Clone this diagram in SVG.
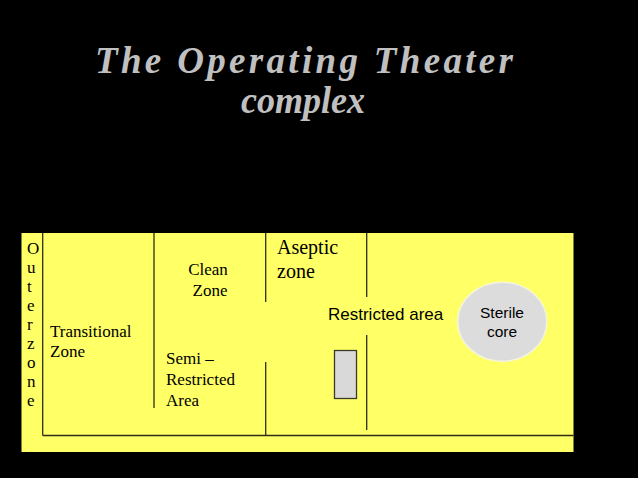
<svg xmlns="http://www.w3.org/2000/svg" width="638" height="478" viewBox="0 0 638 478">
<style>
.title{font-family:"Liberation Serif",serif;font-weight:bold;font-style:italic;font-size:37px;fill:#c0c0c0}
.tm{font-family:"Liberation Serif",serif;font-size:17px;fill:#000}
.ar{font-family:"Liberation Sans",sans-serif;fill:#000}
.ln{stroke:#2e2e1a;stroke-width:1.3;fill:none}
</style>
<rect x="0" y="0" width="638" height="478" fill="#000"/>
<g id="title">
<text class="title" x="95" y="73" textLength="418" lengthAdjust="spacing">The Operating Theater</text>
<text class="title" x="241" y="113" textLength="124" lengthAdjust="spacingAndGlyphs">complex</text>
</g>
<rect id="complex-area" x="21.5" y="233" width="552" height="219" fill="#ffff66"/>
<g id="connectors">
<line class="ln" x1="42.7" y1="233" x2="42.7" y2="435.5"/>
<line class="ln" x1="42.7" y1="435.5" x2="573.5" y2="435.5"/>
<line class="ln" x1="154" y1="233" x2="154" y2="408"/>
<line class="ln" x1="265.7" y1="233" x2="265.7" y2="302"/>
<line class="ln" x1="265.7" y1="362" x2="265.7" y2="435.5"/>
<line class="ln" x1="366.7" y1="233" x2="366.7" y2="297"/>
<line class="ln" x1="366.7" y1="335" x2="366.7" y2="430"/>
</g>
<g id="outer-zone" class="tm">
<text x="27" y="254">O</text>
<text x="27" y="272.5">u</text>
<text x="27" y="291.5">t</text>
<text x="27" y="310.5">e</text>
<text x="27" y="329.5">r</text>
<text x="27" y="348.5">z</text>
<text x="27" y="367.5">o</text>
<text x="27" y="386.5">n</text>
<text x="27" y="405.5">e</text>
</g>
<g id="transitional-zone" class="tm">
<text x="50" y="337">Transitional</text>
<text x="50" y="357">Zone</text>
</g>
<g id="clean-zone" class="tm" text-anchor="middle">
<text x="208" y="275">Clean</text>
<text x="210" y="296">Zone</text>
</g>
<g id="semi-restricted" class="tm">
<text x="166" y="364">Semi –</text>
<text x="166" y="385">Restricted</text>
<text x="166" y="406">Area</text>
</g>
<g id="aseptic-zone" class="tm" style="font-size:20px">
<text x="277" y="254">Aseptic</text>
<text x="277" y="278">zone</text>
</g>
<g id="restricted-area">
<text class="ar" x="328" y="320" style="font-size:17px">Restricted area</text>
</g>
<g id="door">
<rect x="334.5" y="350.5" width="22" height="48" fill="#d9d9d9" stroke="#3a3a2a" stroke-width="1.3"/>
</g>
<g id="sterile-core">
<ellipse cx="502.3" cy="321.7" rx="44.5" ry="39.5" fill="#dcdcdc" stroke="#f4f4e0" stroke-width="1.5"/>
<text class="ar" x="502" y="318" text-anchor="middle" style="font-size:15.5px">Sterile</text>
<text class="ar" x="502" y="337" text-anchor="middle" style="font-size:15.5px">core</text>
</g>
</svg>
